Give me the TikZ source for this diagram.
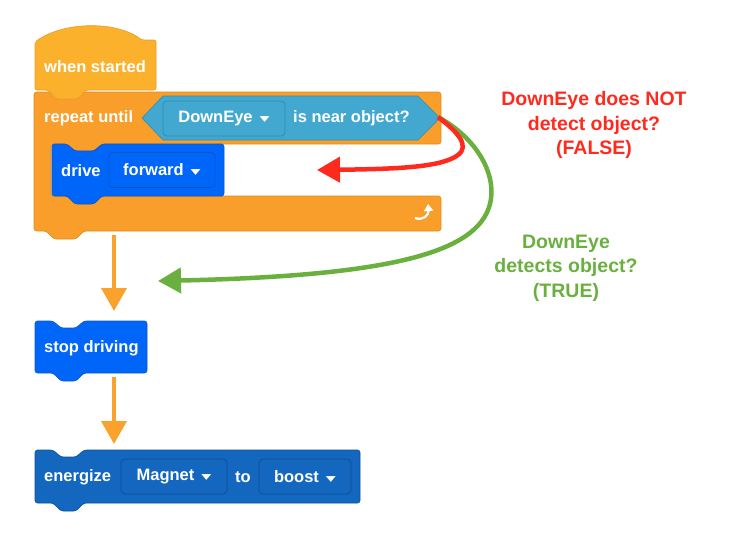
\documentclass[tikz,border=0pt]{standalone}
\usepackage{fontspec}
\setmainfont{Liberation Sans}
\newfontfamily\symfont{DejaVu Sans}
\usetikzlibrary{arrows.meta}
\definecolor{hatcol}{HTML}{FBB12C}
\definecolor{hatline}{HTML}{E39E26}
\definecolor{loopcol}{HTML}{F99E2A}
\definecolor{loopline}{HTML}{DE8C22}
\definecolor{sensecol}{HTML}{43A8D0}
\definecolor{senseline}{HTML}{2F8DB4}
\definecolor{drivecol}{HTML}{0066FA}
\definecolor{driveline}{HTML}{0A55C8}
\definecolor{magcol}{HTML}{1467BF}
\definecolor{magline}{HTML}{0D4F98}
\definecolor{falsecol}{HTML}{FF2A1E}
\definecolor{truecol}{HTML}{6AB03E}
\definecolor{flowcol}{HTML}{FBA22C}
\newcommand{\ddarrow}{\hspace{7pt}\raisebox{1pt}{\scalebox{1.45}[0.85]{\symfont\fontsize{9}{9}\selectfont ▼}}}
\tikzset{
  blocktext/.style={text=white, font=\bfseries\fontsize{16.5}{19}\selectfont, inner sep=0pt, anchor=west},
  dropdown/.style={draw, rounded corners=4pt, line width=0.8pt, text=white,
    font=\bfseries\fontsize{16.5}{19}\selectfont, inner sep=0pt, minimum height=35pt},
  labeltext/.style={font=\bfseries\fontsize{19.5}{24.5}\selectfont, align=center},
  flow/.style={flowcol, line width=4pt, -{Triangle[length=23pt,width=25pt]}},
  branch/.style={line width=4.5pt, -{Triangle[length=23pt,width=25pt]}}
}
\begin{document}
\begin{tikzpicture}[x=1pt,y=-1pt]
  \useasboundingbox (0,0) rectangle (737,555);
  % repeat until (C block)
  \filldraw[fill=loopcol, draw=loopline, line width=0.6pt, rounded corners=2.5pt]
    (34,92) -- (441,92) -- (441,144) -- (102,144) -- (94,151) -- (75,151) -- (67,144)
    -- (51,144) -- (51,196) -- (441,196) -- (441,231) -- (84,231) -- (76,239)
    -- (54,239) -- (46,231) -- (34,231) -- cycle;
  % hat block
  \filldraw[fill=hatcol, draw=hatline, line width=0.6pt, rounded corners=2pt]
    (35,90) -- (35,42) .. controls (62,22) and (115,20) .. (142,40) -- (156,40)
    -- (156,90) -- (86,90) -- (78,99) -- (56,99) -- (48,90) -- cycle;
  \node[blocktext] (started) at (44,67) {when started};
  % condition
  \filldraw[fill=sensecol, draw=senseline, line width=0.6pt]
    (142,118) -- (163,96) -- (418,96) -- (440,118) -- (418,140) -- (163,140) -- cycle;
  \coordinate (condtip) at (438,117);
  \node[blocktext] (repeat) at (44,118) {repeat until};
  \node[dropdown, draw=senseline, fill=sensecol, minimum width=122pt] (eye) at (224,118.5) {DownEye\ddarrow};
  \node[blocktext] (near) at (293,118) {is near object?};
  % drive
  \filldraw[fill=drivecol, draw=driveline, line width=0.6pt, rounded corners=2.5pt]
    (52,144) -- (67,144) -- (75,151) -- (94,151) -- (102,144) -- (224,144) -- (224,196)
    -- (102,196) -- (94,204) -- (75,204) -- (67,196) -- (52,196) -- cycle;
  \node[blocktext] (drive) at (61,171) {drive};
  \node[dropdown, draw=driveline, fill=drivecol, minimum width=106pt] (fwd) at (162,170) {forward\ddarrow};
  % loop icon
  \draw[white, line width=2.2pt, -{Triangle[length=7pt,width=9pt]}]
    (415,218) .. controls (423,221) and (429,215) .. (428,204);
  % stop driving
  \filldraw[fill=drivecol, draw=driveline, line width=0.6pt, rounded corners=2.5pt]
    (35,321) -- (53,321) -- (61,328) -- (76,328) -- (84,321) -- (147,321) -- (147,373)
    -- (84,373) -- (76,381) -- (61,381) -- (53,373) -- (35,373) -- cycle;
  \node[blocktext] (stop) at (44,348) {stop driving};
  % energize
  \filldraw[fill=magcol, draw=magline, line width=0.6pt, rounded corners=2.5pt]
    (35,450) -- (53,450) -- (61,457) -- (76,457) -- (84,450) -- (360,450) -- (360,503)
    -- (84,503) -- (76,511) -- (61,511) -- (53,503) -- (35,503) -- cycle;
  \node[blocktext] (energize) at (44,477) {energize};
  \node[dropdown, draw=magline, fill=magcol, minimum width=106pt] (magnet) at (174,476.5) {Magnet\ddarrow};
  \node[blocktext] (to) at (235,477) {to};
  \node[dropdown, draw=magline, fill=magcol, minimum width=92pt] (boost) at (305,476.5) {boost\ddarrow};
  % flow arrows
  \coordinate (loopend) at (114,235);
  \coordinate (stoptop) at (114,311);
  \coordinate (stopend) at (114,377);
  \coordinate (magtop) at (114,444);
  \draw[flow] (loopend) -- (stoptop);
  \draw[flow] (stopend) -- (magtop);
  % branches
  \coordinate (truein) at (158,281);
  \coordinate (falsein) at (317,170);
  \draw[branch, truecol] (condtip) .. controls (480,140) and (500,180) .. (488,210)
    .. controls (470,255) and (380,276) .. (truein);
  \draw[branch, falsecol] (condtip) .. controls (458,132) and (470,146) .. (458,155)
    .. controls (442,167) and (400,169) .. (falsein);
  \node[labeltext, text=falsecol] (nolabel) at (594,125) {DownEye does NOT\\detect object?\\(FALSE)};
  \node[labeltext, text=truecol] (yeslabel) at (566,268) {DownEye\\detects object?\\(TRUE)};
\end{tikzpicture}
\end{document}
